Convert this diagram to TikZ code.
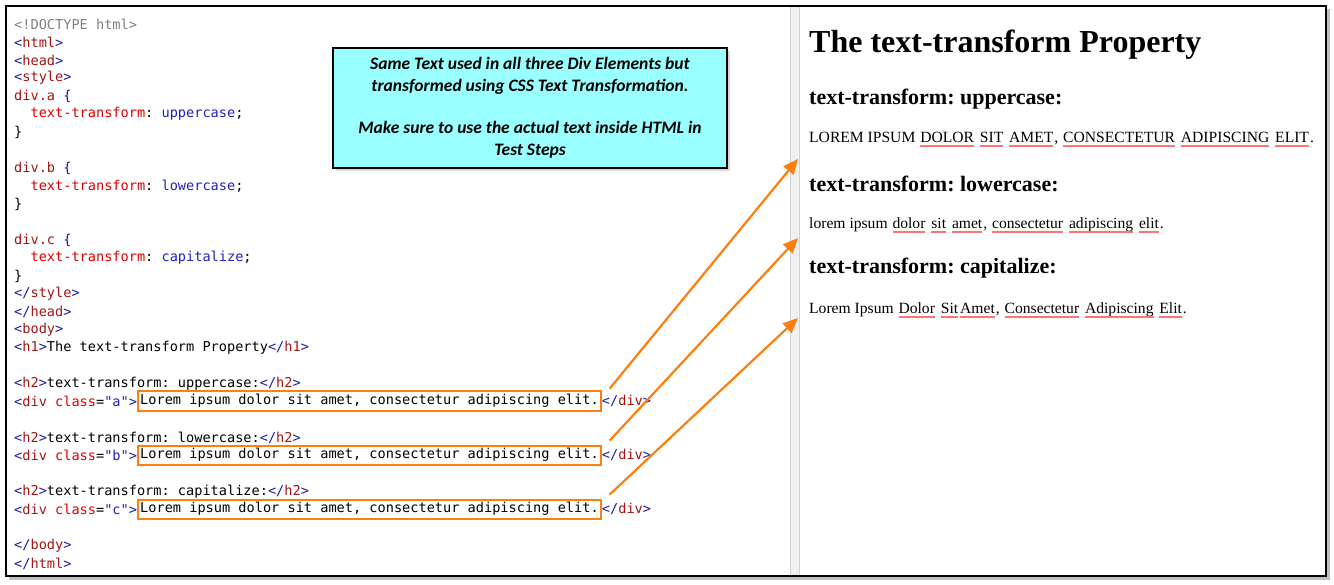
\documentclass[tikz,border=0pt]{standalone}
\usepackage{fontspec}
\setmainfont{Liberation Serif}
\newfontfamily\codefont{DejaVu Sans Mono}
\newfontfamily\callfont{Carlito}
\usetikzlibrary{arrows.meta,shadows}
\definecolor{tagb}{HTML}{1A1AA6}
\definecolor{tagn}{HTML}{A31515}
\definecolor{attr}{HTML}{E00000}
\definecolor{valb}{HTML}{2020C0}
\definecolor{orng}{HTML}{FF7F0E}
\definecolor{cyanbox}{HTML}{99FFFF}
\frenchspacing
\newcommand\ot[1]{\textcolor{tagb}{<}\textcolor{tagn}{#1}\textcolor{tagb}{>}}
\newcommand\ct[1]{\textcolor{tagb}{</}\textcolor{tagn}{#1}\textcolor{tagb}{>}}
\newcommand\sq[1]{\tikz[baseline=(w.base)]{\node[inner sep=0pt,outer sep=0pt,anchor=base](w){#1};\draw[red!55,line width=2pt]([yshift=-3.5pt]w.base west)--([yshift=-3.5pt]w.base east);}}
\begin{document}
\begin{tikzpicture}[x=1pt,y=-1pt,
  code/.style={anchor=west,inner sep=0pt,font=\codefont\fontsize{13.6}{16}\selectfont},
  lbox/.style={code,draw=orng,line width=2pt,inner xsep=2pt,minimum height=19pt,anchor=west},
  arr/.style={draw=orng,line width=2.2pt,-{Triangle[length=15pt,width=13pt]}},
  rh2/.style={anchor=west,inner sep=0pt,font=\bfseries\fontsize{22}{26}\selectfont},
  rp/.style={anchor=west,inner sep=0pt,font=\fontsize{15.6}{18}\selectfont}]
\useasboundingbox (0,0) rectangle (1334,585);
% frame
\fill[gray!50] (9,9) rectangle (1330,580);
\fill[white] (6,6) rectangle (1326,576);
\fill[gray!12] (790,7) rectangle (799,575);
\draw[gray!35] (790,7) -- (790,575) (799,7) -- (799,575);
\draw[line width=2pt] (6,6) rectangle (1326,576);
% code
\node[code] (c0) at (14,24) {\textcolor{gray}{<!DOCTYPE html>}};
\node[code] (c1) at (14,42) {\ot{html}};
\node[code] (c2) at (14,60) {\ot{head}};
\node[code] (c3) at (14,78) {\ot{style}};
\node[code] (c4) at (14,96) {\textcolor{tagn}{div.a} \textcolor{tagb}{\{}};
\node[code] (c5) at (14,114) {\phantom{xx}\textcolor{attr}{text-transform}: \textcolor{valb}{uppercase};};
\node[code] (c6) at (14,132) {\}};
\node[code] (c8) at (14,168) {\textcolor{tagn}{div.b} \textcolor{tagb}{\{}};
\node[code] (c9) at (14,186) {\phantom{xx}\textcolor{attr}{text-transform}: \textcolor{valb}{lowercase};};
\node[code] (c10) at (14,204) {\}};
\node[code] (c12) at (14,240) {\textcolor{tagn}{div.c} \textcolor{tagb}{\{}};
\node[code] (c13) at (14,258) {\phantom{xx}\textcolor{attr}{text-transform}: \textcolor{valb}{capitalize};};
\node[code] (c14) at (14,276) {\}};
\node[code] (c15) at (14,294) {\ct{style}};
\node[code] (c16) at (14,312) {\ct{head}};
\node[code] (c17) at (14,330) {\ot{body}};
\node[code] (c18) at (14,348) {\ot{h1}The text-transform Property\ct{h1}};
\node[code] (c20) at (14,384) {\ot{h2}text-transform: uppercase:\ct{h2}};
\node[code] (c21) at (14,401) {\textcolor{tagb}{<}\textcolor{tagn}{div} \textcolor{attr}{class}=\textcolor{valb}{"a"}\textcolor{tagb}{>}};
\node[lbox] (la) at (c21.east) {Lorem ipsum dolor sit amet, consectetur adipiscing elit.};
\node[code] (e21) at (la.east) {\ct{div}};
\node[code] (c23) at (14,438) {\ot{h2}text-transform: lowercase:\ct{h2}};
\node[code] (c24) at (14,455) {\textcolor{tagb}{<}\textcolor{tagn}{div} \textcolor{attr}{class}=\textcolor{valb}{"b"}\textcolor{tagb}{>}};
\node[lbox] (lb) at (c24.east) {Lorem ipsum dolor sit amet, consectetur adipiscing elit.};
\node[code] (e24) at (lb.east) {\ct{div}};
\node[code] (c26) at (14,492) {\ot{h2}text-transform: capitalize:\ct{h2}};
\node[code] (c27) at (14,509) {\textcolor{tagb}{<}\textcolor{tagn}{div} \textcolor{attr}{class}=\textcolor{valb}{"c"}\textcolor{tagb}{>}};
\node[lbox] (lc) at (c27.east) {Lorem ipsum dolor sit amet, consectetur adipiscing elit.};
\node[code] (e27) at (lc.east) {\ct{div}};
\node[code] (c29) at (14,546) {\ct{body}};
\node[code] (c30) at (14,564) {\ct{html}};
% callout
\node[draw,line width=1.5pt,fill=cyanbox,minimum width=394pt,minimum height=120pt,
  drop shadow={shadow xshift=3pt,shadow yshift=-3pt,fill=gray!60},
  align=center,font=\callfont\bfseries\itshape\fontsize{17.5}{22}\selectfont] (call) at (530,108)
  {Same Text used in all three Div Elements but\\transformed using CSS Text Transformation.\\[20pt]Make sure to use the actual text inside HTML in\\Test Steps};
% right panel
\node[anchor=west,inner sep=0pt,font=\bfseries\fontsize{32}{36}\selectfont] (h1) at (809,45) {The text-transform Property};
\node[rh2] (h2a) at (809,99) {text-transform: uppercase:};
\node[rp] (pa) at (809,140) {LOREM IPSUM \sq{DOLOR} \sq{SIT} \sq{AMET}, \sq{CONSECTETUR} \sq{ADIPISCING} \sq{ELIT}.};
\node[rh2] (h2b) at (809,184) {text-transform: lowercase:};
\node[rp] (pb) at (809,225) {lorem ipsum \sq{dolor} \sq{sit} \sq{amet}, \sq{consectetur} \sq{adipiscing} \sq{elit}.};
\node[rh2] (h2c) at (809,268) {text-transform: capitalize:};
\node[rp] (pc) at (809,310) {Lorem Ipsum \sq{Dolor} \sq{Sit}\sq{Amet}, \sq{Consectetur} \sq{Adipiscing} \sq{Elit}.};
% arrows
\coordinate (ta) at (798,159);
\coordinate (tb) at (798,238);
\coordinate (tc) at (798,318);
\draw[arr] ([shift={(8,-2)}]la.north east) -- (ta);
\draw[arr] ([shift={(8,-4)}]lb.north east) -- (tb);
\draw[arr] ([shift={(8,-4)}]lc.north east) -- (tc);
\end{tikzpicture}
\end{document}
